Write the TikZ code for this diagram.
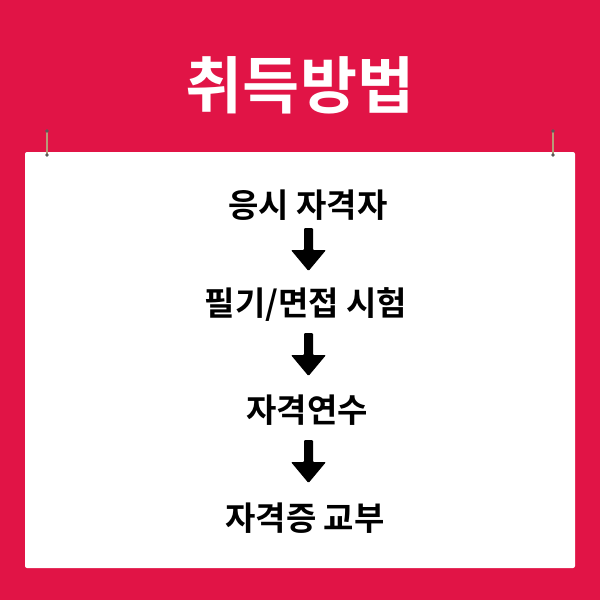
\documentclass[tikz,border=0pt]{standalone}
\usepackage{fontspec}
\newfontfamily\kr{Noto Sans CJK KR}[BoldFont={* Bold}]
\definecolor{bg}{HTML}{E11446}
\definecolor{hook}{HTML}{B89A78}
\begin{document}
\begin{tikzpicture}[x=1pt,y=-1pt,
  step txt/.style={font=\kr\bfseries\fontsize{33}{36}\selectfont, text=black},
  hookline/.style={draw=hook, line width=2.5pt, line cap=round},
  darrow/.style={fill=black}]
\fill[bg] (0,0) rectangle (600,600);
\useasboundingbox (0,0) rectangle (600,600);
\node[font=\kr\bfseries\fontsize{62}{66}\selectfont, text=white] (title) at (300,85) {취득방법};
\fill[white, rounded corners=2pt] (25,152) rectangle (575,568);
\foreach \hx in {47,553}{
  \draw[hookline] (\hx,131) -- (\hx,155);
  \fill[gray!70!black] (\hx,131) circle (1.8);
  \fill[gray!70!black] (\hx,155) circle (1.8);
}
\node[step txt] (s1) at (308,205) {응시 자격자};
\node[step txt] (s2) at (306,305) {필기/면접 시험};
\node[step txt] (s3) at (307,410) {자격연수};
\node[step txt] (s4) at (305,518) {자격증 교부};
\foreach \ay in {228,333,440}{
  \fill[black, rounded corners=1pt] (304,\ay) -- (313,\ay) -- (313,\ay+22) -- (326,\ay+22) -- (308.5,\ay+43) -- (291,\ay+22) -- (304,\ay+22) -- cycle;
}
\end{tikzpicture}
\end{document}
